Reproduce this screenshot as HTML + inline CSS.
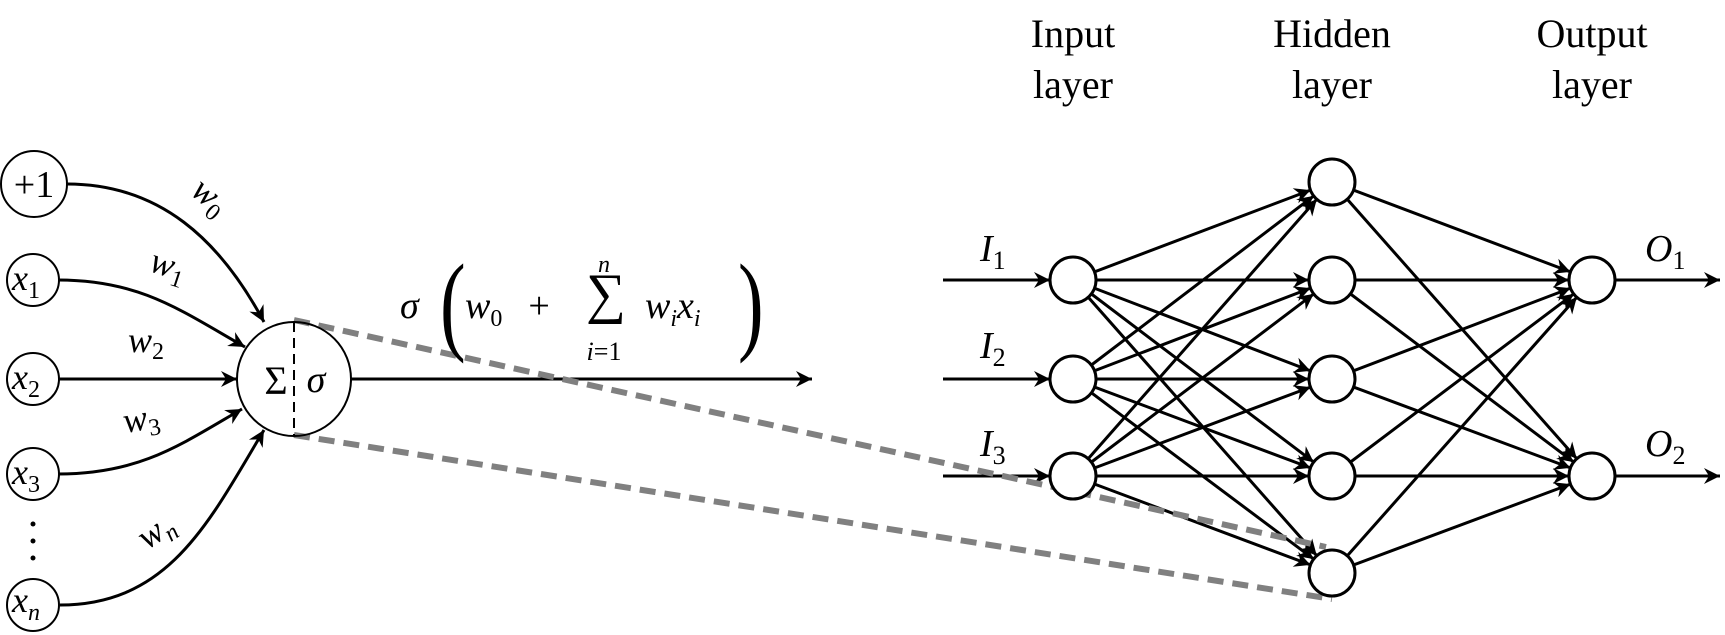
<!DOCTYPE html>
<html><head><meta charset="utf-8"><style>
html,body{margin:0;padding:0;background:#fff;}
svg{display:block;}
text{font-family:"Liberation Serif",serif;fill:#000;}
</style></head><body>
<svg width="1725" height="635" viewBox="0 0 1725 635" xmlns="http://www.w3.org/2000/svg">
<defs>
<marker id="a" markerUnits="userSpaceOnUse" markerWidth="40" markerHeight="40" refX="0" refY="0" orient="auto" overflow="visible">
<path d="M0,0 L-16,-8 L-11,0 L-16,8 z" fill="#000"/>
</marker>
</defs>
<g stroke="#000" stroke-width="3" fill="none">
<path d="M67,184 C160,184 220,240 264,322" marker-end="url(#a)"/>
<path d="M58,280 C140,280 180,310 245,347" marker-end="url(#a)"/>
<path d="M58,379 L237,379" marker-end="url(#a)"/>
<path d="M58,474 C140,474 180,445 242,409" marker-end="url(#a)"/>
<path d="M60,605 C170,605 210,520 264,430" marker-end="url(#a)"/>
<path d="M351,379 L812,379" marker-end="url(#a)"/>
<path d="M943,280 L1050,280" marker-end="url(#a)"/>
<path d="M943,379 L1050,379" marker-end="url(#a)"/>
<path d="M943,476 L1050,476" marker-end="url(#a)"/>
<path d="M1615,280 L1720,280" marker-end="url(#a)"/>
<path d="M1615,476 L1720,476" marker-end="url(#a)"/>
<g marker-end="url(#a)">
<line x1="1073" y1="280" x2="1310.5" y2="190.1"/><line x1="1073" y1="280" x2="1309" y2="280"/><line x1="1073" y1="280" x2="1310.5" y2="370.9"/><line x1="1073" y1="280" x2="1313.7" y2="462.1"/><line x1="1073" y1="280" x2="1316.8" y2="555.8"/>
<line x1="1073" y1="379" x2="1313.7" y2="195.9"/><line x1="1073" y1="379" x2="1310.5" y2="288.1"/><line x1="1073" y1="379" x2="1309" y2="379"/><line x1="1073" y1="379" x2="1310.5" y2="467.9"/><line x1="1073" y1="379" x2="1313.7" y2="559.1"/>
<line x1="1073" y1="476" x2="1316.8" y2="199.2"/><line x1="1073" y1="476" x2="1313.7" y2="293.9"/><line x1="1073" y1="476" x2="1310.5" y2="387.1"/><line x1="1073" y1="476" x2="1309" y2="476"/><line x1="1073" y1="476" x2="1310.5" y2="564.9"/>
<line x1="1332" y1="182" x2="1570.5" y2="271.9"/><line x1="1332" y1="182" x2="1576.8" y2="458.8"/>
<line x1="1332" y1="280" x2="1569" y2="280"/><line x1="1332" y1="280" x2="1573.7" y2="462.1"/>
<line x1="1332" y1="379" x2="1570.5" y2="288.1"/><line x1="1332" y1="379" x2="1570.5" y2="467.9"/>
<line x1="1332" y1="476" x2="1573.7" y2="293.9"/><line x1="1332" y1="476" x2="1569" y2="476"/>
<line x1="1332" y1="573" x2="1576.8" y2="297.2"/><line x1="1332" y1="573" x2="1570.5" y2="484.1"/>
</g>
</g>
<g stroke="#808080" stroke-width="6" stroke-dasharray="16,9" fill="none">
<line x1="294" y1="320" x2="1326" y2="547"/>
<line x1="294" y1="435" x2="1332" y2="599"/>
</g>
<g stroke="#000" stroke-width="3" fill="#fff">
<circle cx="1073" cy="280" r="23"/><circle cx="1073" cy="379" r="23"/><circle cx="1073" cy="476" r="23"/>
<circle cx="1332" cy="182" r="23"/><circle cx="1332" cy="280" r="23"/><circle cx="1332" cy="379" r="23"/><circle cx="1332" cy="476" r="23"/><circle cx="1332" cy="573" r="23"/>
<circle cx="1592" cy="280" r="23"/><circle cx="1592" cy="476" r="23"/>
</g>
<g stroke="#000" stroke-width="2" fill="none">
<circle cx="34" cy="184" r="33"/>
<circle cx="33" cy="280" r="26"/>
<circle cx="33" cy="379" r="26"/>
<circle cx="33" cy="474" r="26"/>
<circle cx="33" cy="605" r="26"/>
<circle cx="294" cy="379" r="57"/>
<line x1="294" y1="322" x2="294" y2="436" stroke-dasharray="10,6"/>
</g>
<g fill="#000"><circle cx="33" cy="524" r="2.5"/><circle cx="33" cy="541" r="2.5"/><circle cx="33" cy="558" r="2.5"/></g>
<text x="34" y="197" font-size="38" text-anchor="middle">+1</text>
<text x="26" y="290" font-size="36" text-anchor="middle"><tspan style="font-style:italic">x</tspan><tspan font-size="24" dy="8">1</tspan></text>
<text x="26" y="389" font-size="36" text-anchor="middle"><tspan style="font-style:italic">x</tspan><tspan font-size="24" dy="8">2</tspan></text>
<text x="26" y="484" font-size="36" text-anchor="middle"><tspan style="font-style:italic">x</tspan><tspan font-size="24" dy="8">3</tspan></text>
<text x="26" y="612" font-size="36" text-anchor="middle" style="font-style:italic">x<tspan font-size="24" dy="8">n</tspan></text>
<text x="276" y="394" font-size="40" text-anchor="middle">Σ</text>
<text x="316" y="392" font-size="38" text-anchor="middle" style="font-style:italic">σ</text>
<text transform="translate(203,205) rotate(40)" font-size="36" text-anchor="middle"><tspan style="font-style:italic">w</tspan><tspan font-size="24" dy="7">0</tspan></text>
<text transform="translate(165,276) rotate(18)" font-size="36" text-anchor="middle"><tspan style="font-style:italic">w</tspan><tspan font-size="24" dy="7">1</tspan></text>
<text x="146" y="352" font-size="36" text-anchor="middle"><tspan style="font-style:italic">w</tspan><tspan font-size="24" dy="7">2</tspan></text>
<text transform="translate(143,430) rotate(-10)" font-size="36" text-anchor="middle"><tspan style="font-style:italic">w</tspan><tspan font-size="24" dy="7">3</tspan></text>
<text transform="translate(162,540) rotate(-35)" font-size="36" text-anchor="middle" style="font-style:italic">w<tspan font-size="24" dy="7">n</tspan></text>
<text x="400" y="318" font-size="38" style="font-style:italic">σ</text>
<text transform="translate(440,340) scale(0.7,1)" font-size="110">(</text>
<text x="465" y="318" font-size="38"><tspan style="font-style:italic">w</tspan><tspan font-size="24" dy="8">0</tspan><tspan dy="-8" dx="26">+</tspan></text>
<text x="606" y="312" font-size="56" text-anchor="middle">∑</text>
<text x="604" y="272" font-size="24" text-anchor="middle" style="font-style:italic">n</text>
<text x="604" y="360" font-size="26" text-anchor="middle"><tspan style="font-style:italic">i</tspan>=1</text>
<text x="645" y="318" font-size="38" style="font-style:italic">w<tspan font-size="24" dy="8">i</tspan><tspan dy="-8">x</tspan><tspan font-size="24" dy="8">i</tspan></text>
<text transform="translate(738,340) scale(0.7,1)" font-size="110">)</text>
<g font-size="40" text-anchor="middle">
<text x="1073" y="47">Input</text><text x="1073" y="98">layer</text>
<text x="1332" y="47">Hidden</text><text x="1332" y="98">layer</text>
<text x="1592" y="47">Output</text><text x="1592" y="98">layer</text>
</g>
<g font-size="38">
<text x="980" y="261"><tspan style="font-style:italic">I</tspan><tspan font-size="26" dy="8">1</tspan></text>
<text x="980" y="358"><tspan style="font-style:italic">I</tspan><tspan font-size="26" dy="8">2</tspan></text>
<text x="980" y="456"><tspan style="font-style:italic">I</tspan><tspan font-size="26" dy="8">3</tspan></text>
<text x="1645" y="261"><tspan style="font-style:italic">O</tspan><tspan font-size="26" dy="8">1</tspan></text>
<text x="1645" y="456"><tspan style="font-style:italic">O</tspan><tspan font-size="26" dy="8">2</tspan></text>
</g>
</svg>
</body></html>
